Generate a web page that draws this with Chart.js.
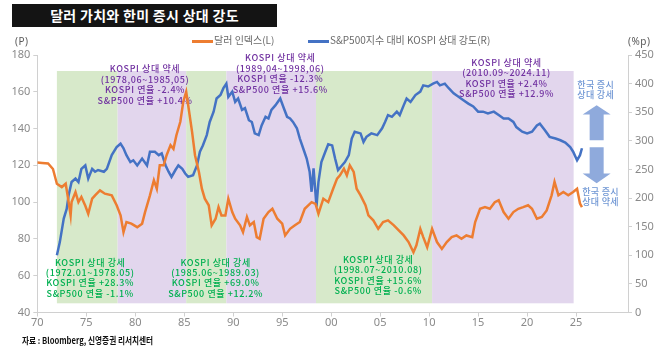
<!DOCTYPE html>
<html>
<head>
<meta charset="utf-8">
<script src="https://cdn.jsdelivr.net/npm/chart.js@4.4.1/dist/chart.umd.min.js"></script>
<style>
  body { margin: 0; background: #fff; }
  #wrap { position: relative; width: 670px; height: 347px; font-family: "Noto Sans CJK KR", sans-serif; }
  #title { position: absolute; left: 12px; top: 4px; width: 265px; height: 23px; background: #141414; color: #fff;
           font-size: 14px; font-weight: bold; line-height: 23px; text-align: center; letter-spacing: 0.3px; }
  .lg { position: absolute; top: 33px; font-size: 10px; color: #6a6a6a; line-height: 14px; }
  .lg i { display: inline-block; width: 21px; height: 2.5px; vertical-align: middle; margin-right: 1px; }
  .unit { position: absolute; top: 34px; font-size: 10px; color: #595959; font-family: "Noto Sans", sans-serif; letter-spacing: 0.5px; }
  #src { position: absolute; left: 22px; top: 334px; font-size: 9px; font-weight: bold; color: #111;
         transform: scaleX(0.85); transform-origin: left; white-space: nowrap; }
</style>
</head>
<body>
<div id="wrap">
  <canvas id="myChart" width="670" height="347"></canvas>
  <div id="title">달러 가치와 한미 증시 상대 강도</div>
  <div class="lg" style="left:192px"><i style="background:#ED7D31"></i>달러 인덱스(L)</div>
  <div class="lg" style="left:308px"><i style="background:#4472C4"></i>S&amp;P500지수 대비 KOSPI 상대 강도(R)</div>
  <div class="unit" style="left:15px">(P)</div>
  <div class="unit" style="left:628px">(%p)</div>
  <div id="src">자료 : Bloomberg, 신영증권 리서치센터</div>
</div>
<script>
// 달러 인덱스 (L)
const dollarYears = [1970.0, 1970.5, 1971.1, 1971.6, 1972.0, 1972.5, 1972.9, 1973.2, 1973.4, 1973.5, 1973.9, 1974.2, 1974.5, 1974.9,
  1975.2, 1975.6, 1975.9, 1976.4, 1976.9, 1977.6, 1978.1, 1978.5, 1978.8, 1979.1, 1979.6, 1980.2, 1980.7, 1981.0, 1981.5, 1981.9,
  1982.2, 1982.5, 1982.9, 1983.2, 1983.6, 1983.9, 1984.2, 1984.6, 1984.9, 1985.2, 1985.4, 1985.8, 1986.1, 1986.5, 1986.8, 1987.1,
  1987.5, 1987.8, 1988.2, 1988.5, 1988.8, 1989.2, 1989.5, 1989.9, 1990.2, 1990.7, 1991.0, 1991.4, 1991.7, 1992.1, 1992.4, 1992.7,
  1993.1, 1993.6, 1994.0, 1994.5, 1995.0, 1995.3, 1995.8, 1996.3, 1996.8, 1997.3, 1998.0, 1998.4, 1998.7, 1999.2, 1999.7, 2000.2,
  2000.6, 2000.9, 2001.3, 2001.6, 2001.9, 2002.3, 2002.6, 2003.0, 2003.5, 2003.8, 2004.3, 2004.8, 2005.3, 2005.8, 2006.4, 2006.9,
  2007.4, 2007.9, 2008.4, 2008.7, 2009.1, 2009.4, 2009.8, 2010.3, 2010.8, 2011.3, 2011.8, 2012.3, 2012.8, 2013.3, 2013.8, 2014.4,
  2014.7, 2015.2, 2015.7, 2016.2, 2016.7, 2017.1, 2017.6, 2018.1, 2018.6, 2019.1, 2019.6, 2020.1, 2020.5, 2021.0, 2021.5, 2022.0,
  2022.5, 2022.8, 2023.2, 2023.7, 2024.2, 2024.7, 2025.1, 2025.4, 2025.6];
const dollarValues = [121.5, 121.3, 121, 118, 110, 108.2, 110, 100, 92.8, 100, 105.5, 100, 102.8, 98,
  93.7, 101.9, 103.7, 106.4, 104.6, 103.7, 98.3, 92.8, 83.7, 89.2, 88.3, 86.4, 88.3, 94.6, 103.7, 111.9,
  107.3, 120, 120, 125.5, 131, 129, 136.4, 143.7, 154.6, 160, 152.8, 138.2, 125.5, 116.4, 107.3, 101.9,
  98.3, 87.4, 91, 97.3, 92.8, 92.8, 101.9, 94.6, 91, 87.4, 83.7, 91.9, 87.4, 89.2, 81, 80.1,
  91, 94.6, 96.4, 91, 88.3, 81.9, 85.5, 87.4, 89.2, 96.4, 100, 99, 93.7, 101.9, 100, 107.3,
  112.8, 114.6, 118.2, 114.6, 120, 116.4, 107.3, 103.7, 98.3, 92.8, 90.1, 85.5, 89.2, 90.1, 87.4, 84.6,
  81.9, 78.3, 72.8, 76.5, 85.5, 81, 75.5, 85.5, 78.3, 74.6, 78.3, 81, 81.9, 80.1, 81.9, 81,
  89.2, 96.4, 97.3, 96.4, 100, 101, 94.6, 91, 94.6, 96.4, 97.3, 98.3, 96.4, 91, 91.9, 95.5,
  103.7, 111, 103.7, 105.5, 103.7, 105.5, 107.3, 99.2, 97.3];

// S&P500지수 대비 KOSPI 상대 강도 (R)
const kospiYears = [1972.0, 1972.3, 1972.7, 1973.0, 1973.2, 1973.5, 1973.9, 1974.2, 1974.5, 1974.9, 1975.2, 1975.6, 1975.9, 1976.2,
  1976.8, 1977.1, 1977.6, 1978.1, 1978.5, 1978.8, 1979.1, 1979.5, 1979.8, 1980.2, 1980.7, 1981.2, 1981.5, 1982.0, 1982.4, 1982.7,
  1983.1, 1983.4, 1983.7, 1984.1, 1984.4, 1984.8, 1985.1, 1985.4, 1985.9, 1986.3, 1986.6, 1986.9, 1987.3, 1987.6, 1988.0, 1988.3,
  1988.7, 1989.0, 1989.3, 1989.5, 1989.9, 1990.2, 1990.5, 1990.9, 1991.2, 1991.6, 1991.9, 1992.2, 1992.6, 1992.9, 1993.3, 1993.6,
  1993.9, 1994.3, 1994.8, 1995.1, 1995.5, 1995.8, 1996.1, 1996.5, 1996.8, 1997.2, 1997.5, 1997.8, 1998.0, 1998.2, 1998.5, 1998.7,
  1999.0, 1999.4, 1999.7, 2000.1, 2000.4, 2000.7, 2001.1, 2001.4, 2001.8, 2002.1, 2002.4, 2003.0, 2003.3, 2003.6, 2004.1, 2004.7,
  2005.2, 2005.5, 2005.8, 2006.2, 2006.7, 2007.0, 2007.4, 2007.7, 2008.1, 2008.6, 2009.1, 2009.4, 2009.9, 2010.4, 2010.8, 2011.1,
  2011.6, 2012.0, 2012.5, 2013.0, 2013.5, 2014.0, 2014.5, 2015.0, 2015.5, 2016.0, 2016.6, 2017.1, 2017.6, 2018.1, 2018.6, 2018.9,
  2019.5, 2020.0, 2020.5, 2021.0, 2021.3, 2021.8, 2022.3, 2022.9, 2023.4, 2023.9, 2024.4, 2024.7, 2025.1, 2025.4, 2025.6];
const kospiValues = [100, 123, 164, 181, 205, 228, 234, 228, 251, 257, 234, 251, 246, 249,
  246, 251, 275, 289, 295, 287, 275, 263, 266, 257, 269, 257, 281, 281, 275, 278,
  257, 246, 237, 249, 257, 251, 243, 237, 240, 257, 281, 292, 310, 333, 351, 374,
  380, 392, 400, 377, 386, 368, 374, 354, 357, 336, 333, 313, 310, 327, 342, 339,
  354, 362, 374, 360, 342, 339, 333, 322, 304, 284, 269, 246, 211, 252, 185, 228,
  263, 281, 294, 292, 269, 249, 257, 263, 275, 304, 316, 313, 298, 307, 313, 310,
  322, 333, 345, 342, 351, 345, 362, 374, 368, 380, 386, 397, 395, 400, 403, 397,
  400, 392, 383, 377, 371, 365, 360, 351, 351, 348, 351, 345, 339, 339, 333, 324,
  316, 313, 316, 327, 330, 319, 307, 304, 301, 297, 289, 281, 266, 275, 287];

const xTicks = [1970, 1975, 1980, 1985, 1990, 1995, 2000, 2005, 2010, 2015, 2020, 2025];

// 상대 강세/약세 구간
const periods = [[1972.0, 1978.2], [1978.2, 1985.2], [1985.2, 1989.3], [1989.3, 1998.45], [1998.45, 2010.3], [2010.3, 2024.75]];
const notes = [
  { x: 1975.4, y: 67.4, c: '#00B050', t: ['KOSPI 상대 강세', '(1972.01~1978.05)', 'KOSPI 연율 +28.3%', 'S&P500 연율 -1.1%'] },
  { x: 1981.0, y: 172.4, c: '#7030A0', t: ['KOSPI 상대 약세', '(1978,06~1985,05)', 'KOSPI 연율 -2.4%', 'S&P500 연율 +10.4%'] },
  { x: 1988.2, y: 67.4, c: '#00B050', t: ['KOSPI 상대 강세', '(1985.06~1989.03)', 'KOSPI 연율 +69.0%', 'S&P500 연율 +12.2%'] },
  { x: 1994.8, y: 178.4, c: '#7030A0', t: ['KOSPI 상대 약세', '(1989,04~1998,06)', 'KOSPI 연율 -12.3%', 'S&P500 연율 +15.6%'] },
  { x: 2004.8, y: 68.8, c: '#00B050', t: ['KOSPI 상대 강세', '(1998.07~2010.08)', 'KOSPI 연율 +15.6%', 'S&P500 연율 -0.6%'] },
  { x: 2017.9, y: 176.0, c: '#7030A0', t: ['KOSPI 상대 약세', '(2010.09~2024.11)', 'KOSPI 연율 +2.4%', 'S&P500 연율 +12.9%'] }
];

// 구간 배경, 주석, 화살표
const notesPlugin = {
  id: 'notes',
  beforeDatasetsDraw(chart) {
    const ctx = chart.ctx;
    const x = chart.scales.x, yL = chart.scales.yL, yR = chart.scales.yR;
    ctx.save();
    const top = yL.getPixelForValue(171.3), bottom = yL.getPixelForValue(45);
    periods.forEach((p, i) => {
      const x0 = x.getPixelForValue(p[0]), x1 = x.getPixelForValue(p[1]);
      ctx.fillStyle = i % 2 === 0 ? '#d7e9ca' : '#e2d6ed';
      ctx.fillRect(x0, top, x1 - x0, bottom - top);
    });
    ctx.font = '500 9px "Noto Sans CJK KR"';
    ctx.letterSpacing = '0.6px';
    ctx.textAlign = 'center';
    ctx.textBaseline = 'middle';
    notes.forEach(n => {
      ctx.fillStyle = n.c;
      const cx = x.getPixelForValue(n.x), cy = yL.getPixelForValue(n.y);
      n.t.forEach((line, k) => ctx.fillText(line, cx, cy + k * 10.4));
    });

    // 한국 증시 상대 강세 / 약세
    const ax = x.getPixelForValue(2027.1);
    ctx.fillStyle = '#8faadc';
    ctx.beginPath();
    ctx.moveTo(ax, yR.getPixelForValue(362));
    ctx.lineTo(ax + 14, yR.getPixelForValue(346));
    ctx.lineTo(ax + 7, yR.getPixelForValue(346));
    ctx.lineTo(ax + 7, yR.getPixelForValue(301));
    ctx.lineTo(ax - 7, yR.getPixelForValue(301));
    ctx.lineTo(ax - 7, yR.getPixelForValue(346));
    ctx.lineTo(ax - 14, yR.getPixelForValue(346));
    ctx.closePath();
    ctx.fill();
    ctx.beginPath();
    ctx.moveTo(ax, yR.getPixelForValue(226));
    ctx.lineTo(ax + 14, yR.getPixelForValue(243));
    ctx.lineTo(ax + 7, yR.getPixelForValue(243));
    ctx.lineTo(ax + 7, yR.getPixelForValue(289));
    ctx.lineTo(ax - 7, yR.getPixelForValue(289));
    ctx.lineTo(ax - 7, yR.getPixelForValue(243));
    ctx.lineTo(ax - 14, yR.getPixelForValue(243));
    ctx.closePath();
    ctx.fill();
    ctx.fillStyle = '#6f96d4';
    ctx.letterSpacing = '0.3px';
    const tx = x.getPixelForValue(2027.0), bx = x.getPixelForValue(2027.5);
    ctx.fillText('한국 증시', tx, yR.getPixelForValue(399));
    ctx.fillText('상대 강세', tx, yR.getPixelForValue(381.5));
    ctx.fillText('한국 증시', bx, yR.getPixelForValue(212));
    ctx.fillText('상대 약세', bx, yR.getPixelForValue(193));
    ctx.restore();
  }
};

const axisColor = '#d0d0d0';
const tickFont = { family: '"Noto Sans", sans-serif', size: 11 };

const ctx = document.getElementById('myChart');
const myChart = new Chart(ctx, {
    type: 'line',
    data: {
        datasets: [{
            label: '달러 인덱스(L)',
            data: dollarYears.map((y, i) => ({ x: y, y: dollarValues[i] })),
            borderColor: '#ED7D31',
            backgroundColor: '#ED7D31',
            borderWidth: 2.5,
            pointRadius: 0,
            tension: 0,
            yAxisID: 'yL'
        },
        {
            label: 'S&P500지수 대비 KOSPI 상대 강도(R)',
            data: kospiYears.map((y, i) => ({ x: y, y: kospiValues[i] })),
            borderColor: '#4472C4',
            backgroundColor: '#4472C4',
            borderWidth: 2.5,
            pointRadius: 0,
            tension: 0,
            yAxisID: 'yR'
        }]
    },
    options: {
        responsive: false,
        animation: false,
        layout: { padding: { top: 55, left: 0, right: 0, bottom: 0 } },
        scales: {
            x: {
                type: 'linear',
                min: 1970,
                max: 2030.3,
                afterBuildTicks: axis => { axis.ticks = xTicks.map(v => ({ value: v })); },
                afterFit: axis => { axis.height = 34.5; },
                grid: { drawOnChartArea: false, tickLength: 4, color: axisColor },
                border: { color: axisColor },
                ticks: {
                    padding: 0,
                    color: '#8a8a8a',
                    font: tickFont,
                    maxRotation: 0,
                    callback: v => String(v % 100).padStart(2, '0')
                }
            },
            yL: {
                position: 'left',
                min: 40,
                max: 180,
                afterFit: axis => { axis.width = 37.3; },
                grid: { drawOnChartArea: false, tickLength: 4, color: axisColor },
                border: { color: axisColor },
                ticks: { stepSize: 20, color: '#8a8a8a', font: tickFont }
            },
            yR: {
                position: 'right',
                min: 0,
                max: 450,
                afterFit: axis => { axis.width = 42; },
                grid: { drawOnChartArea: false, tickLength: 4, color: axisColor },
                border: { color: axisColor },
                ticks: { stepSize: 50, color: '#8a8a8a', font: tickFont }
            }
        },
        plugins: {
            legend: { display: false },
            tooltip: { enabled: false }
        }
    },
    plugins: [notesPlugin]
});
</script>
</body>
</html>
